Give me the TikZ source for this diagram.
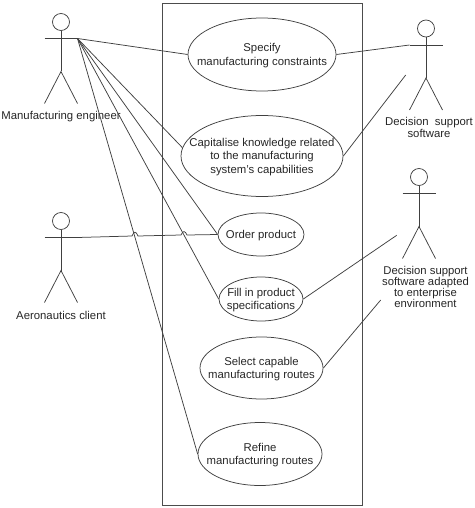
\documentclass[tikz,border=0pt]{standalone}
\usepackage{fontspec}
\setmainfont{Liberation Sans}
\usetikzlibrary{shapes.geometric}

\tikzset{
  link/.style={black!75, line width=0.75pt},
  border/.style={black!70, line width=1pt},
  usecase/.style={draw=black!75, line width=0.75pt, ellipse, inner sep=0pt},
  usetext/.style={align=center, inner sep=0pt, yshift=-1pt, text=black!85, font=\fontsize{11.35}{13.8}\selectfont},
  actorhead/.style={draw=black!75, line width=0.75pt, circle, inner sep=0pt, minimum size=17pt},
  actortext/.style={align=center, inner sep=0pt, text=black!85, font=\fontsize{11.35}{12}\selectfont},
}

\begin{document}
\begin{tikzpicture}[x=1pt, y=-1pt]

  \useasboundingbox (0,0) rectangle (474,508);

  % system boundary
  \draw[border] (162.5,4) rectangle (362,505);

  % use cases
  \foreach \name/\cx/\cy/\w/\h/\txt in {
      specify/262/54.5/148/73/{Specify\\manufacturing constraints},
      capitalise/262/156/162/81/{Capitalise knowledge related\\to the manufacturing\\system's capabilities},
      order/261/234.5/86/43/{Order product},
      fill/261/299/84/44/{Fill in product\\specifications},
      select/261.5/368/123/62/{Select capable\\manufacturing routes},
      refine/260/454/124/63/{Refine\\manufacturing routes}} {
    \node[usecase, minimum width=\w pt, minimum height=\h pt] (\name) at (\cx,\cy) {};
    \node[usetext] (\name-text) at (\name) {\txt};
  }

  % actors
  \foreach \name/\cx/\cy in {engineer/61/22, client/61/221, software/426/28.5, adapted/419/177} {
    \node[actorhead] (\name-head) at (\cx,\cy) {};
    \coordinate (\name-left) at (\cx-16.5,\cy+16.5);
    \coordinate (\name-right) at (\cx+16.5,\cy+16.5);
    \coordinate (\name-hip) at (\cx,\cy+49.5);
    \draw[link] (\name-head.south) -- (\name-hip);
    \draw[link] (\name-left) -- (\name-right);
    \draw[link] (\cx-16.5,\cy+81.5) -- (\name-hip) -- (\cx+16.5,\cy+81.5);
  }

  % actor names
  \node[actortext] (engineer-name) at (61,117) {Manufacturing engineer};
  \node[actortext] (client-name) at (61,315) {Aeronautics client};
  \node[actortext] (software-name) at (429,127) {Decision\ \ support\\software};
  \node[actortext, font=\fontsize{11.3}{11.3}\selectfont] (adapted-name) at (425.5,287)
    {Decision support\\software adapted\\to enterprise\\environment};

  % free ends on the right
  \coordinate (software-low) at (405.7,75);
  \coordinate (adapted-mid) at (396.7,235.3);
  \coordinate (adapted-low) at (380.7,300);

  % connectors
  \draw[link] (engineer-right) -- (specify.west);
  \draw[link] (engineer-right) -- (capitalise.174);
  \draw[link] (engineer-right) -- (order.west);
  \draw[link] (engineer-right) -- (fill.west);
  \draw[link] (engineer-right) -- (refine.west);
  \draw[link] (client-right) -- (132,236) .. controls (134,231) and (136,231) .. (138,236)
    -- (181,235) .. controls (183,230.5) and (185,230.5) .. (187,235) -- (order.west);
  \draw[link] (specify.east) -- (software-left);
  \draw[link] (capitalise.east) -- (software-low);
  \draw[link] (fill.east) -- (adapted-mid);
  \draw[link] (select.east) -- (adapted-low);

\end{tikzpicture}
\end{document}
